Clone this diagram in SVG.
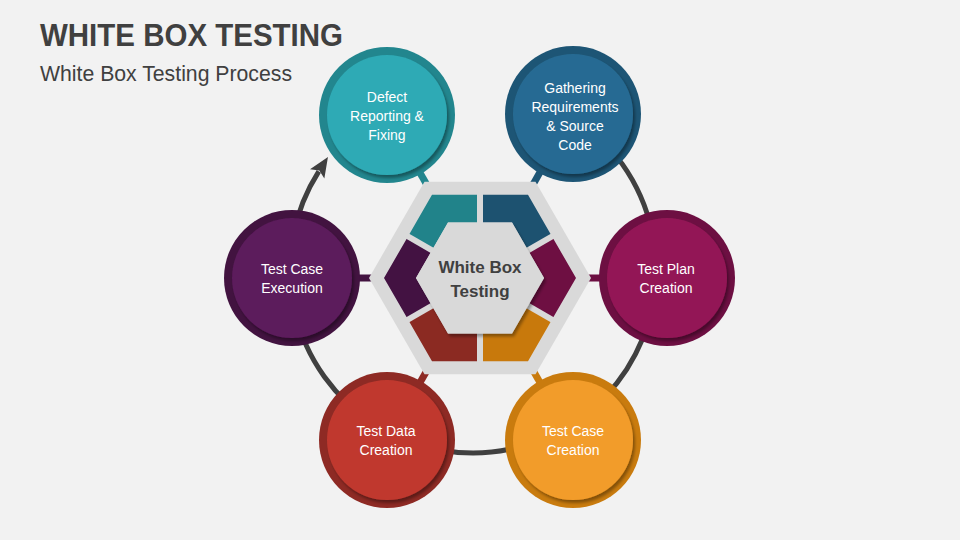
<svg xmlns="http://www.w3.org/2000/svg" width="960" height="540" viewBox="0 0 960 540">
<defs>
<style>
.title{font-family:"Liberation Sans",Arial,sans-serif;font-weight:bold;font-size:32px;fill:#404040}
.sub{font-family:"Liberation Sans",Arial,sans-serif;font-size:22px;fill:#404040}
.lbl{font-family:"Liberation Sans",Arial,sans-serif;font-size:14px;fill:#ffffff;text-anchor:middle}
.ctr{font-family:"Liberation Sans",Arial,sans-serif;font-weight:bold;font-size:17px;fill:#404040;text-anchor:middle}
.ring{fill:none;stroke:#404040;stroke-width:5}
.stem{stroke-width:7}
.gap{stroke:#d9d9d9;stroke-width:6}
</style>
<filter id="sh" x="-20%" y="-20%" width="140%" height="140%">
<feDropShadow dx="2" dy="3" stdDeviation="1.5" flood-color="#000" flood-opacity="0.35"/>
</filter>
<marker id="arr" markerUnits="userSpaceOnUse" markerWidth="24" markerHeight="24" viewBox="-4 -10 24 20" refX="0" refY="0" orient="auto">
<path d="M-3,-8.5 L17,0 L-3,8.5 L1,0 Z" fill="#404040"/>
</marker>
</defs>
<rect width="960" height="540" fill="#f2f2f2"/>
<text class="title" x="40" y="46" textLength="303" lengthAdjust="spacingAndGlyphs">WHITE BOX TESTING</text>
<text class="sub" x="40" y="81" textLength="252" lengthAdjust="spacingAndGlyphs">White Box Testing Process</text>

<g id="connectors">
<path class="ring" d="M572.7,116.5 A183,183 0 1 1 318.8,171.4" marker-end="url(#arr)"/>
<line class="stem" x1="387" y1="115" x2="480" y2="278" stroke="#22868e"/>
<line class="stem" x1="573" y1="114" x2="480" y2="278" stroke="#1d5575"/>
<line class="stem" x1="292" y1="278" x2="480" y2="278" stroke="#421340"/>
<line class="stem" x1="667" y1="278" x2="480" y2="278" stroke="#6d0f42"/>
<line class="stem" x1="387" y1="440" x2="480" y2="278" stroke="#8e2a24"/>
<line class="stem" x1="573" y1="440" x2="480" y2="278" stroke="#c97b0e"/>
</g>

<g id="hub">
<polygon points="591,278 535.5,374.13 424.5,374.13 369,278 424.5,181.87 535.5,181.87" fill="#d9d9d9"/>
<polygon points="552,236.43 576,278 552,319.57 528,305.71 544,278 528,250.29" fill="#6e0f42"/>
<polygon points="552,319.57 528,361.14 480,361.14 480,333.43 512,333.43 528,305.71" fill="#c8790c"/>
<polygon points="480,361.14 432,361.14 408,319.57 432,305.71 448,333.43 480,333.43" fill="#8b2a22"/>
<polygon points="408,319.57 384,278 408,236.43 432,250.29 416,278 432,305.71" fill="#431242"/>
<polygon points="408,236.43 432,194.86 480,194.86 480,222.57 448,222.57 432,250.29" fill="#21838a"/>
<polygon points="480,194.86 528,194.86 552,236.43 528,250.29 512,222.57 480,222.57" fill="#1d5270"/>
<line class="gap" x1="480" y1="278" x2="480" y2="190"/>
<line class="gap" x1="480" y1="278" x2="480" y2="366"/>
<line class="gap" x1="480" y1="278" x2="556.2" y2="234"/>
<line class="gap" x1="480" y1="278" x2="556.2" y2="322"/>
<line class="gap" x1="480" y1="278" x2="403.8" y2="234"/>
<line class="gap" x1="480" y1="278" x2="403.8" y2="322"/>
<polygon points="544,278 512,333.43 448,333.43 416,278 448,222.57 512,222.57" fill="#d9d9d9" filter="url(#sh)"/>
<text class="ctr" x="480" y="273">White Box</text>
<text class="ctr" x="480" y="297">Testing</text>
</g>

<g id="defect">
<circle cx="387" cy="115" r="68" fill="#22868e"/>
<circle cx="387" cy="115" r="60" fill="#2eaab5" filter="url(#sh)"/>
<text class="lbl" x="387" y="102">Defect</text>
<text class="lbl" x="387" y="121">Reporting &amp;</text>
<text class="lbl" x="387" y="140">Fixing</text>
</g>

<g id="gathering">
<circle cx="573" cy="114" r="68" fill="#1d5575"/>
<circle cx="573" cy="114" r="60" fill="#276b93" filter="url(#sh)"/>
<text class="lbl" x="575" y="93">Gathering</text>
<text class="lbl" x="575" y="112">Requirements</text>
<text class="lbl" x="575" y="131">&amp; Source</text>
<text class="lbl" x="575" y="150">Code</text>
</g>

<g id="execution">
<circle cx="292" cy="278" r="68" fill="#421340"/>
<circle cx="292" cy="278" r="60" fill="#5b1b5b" filter="url(#sh)"/>
<text class="lbl" x="292" y="274">Test Case</text>
<text class="lbl" x="292" y="293">Execution</text>
</g>

<g id="plan">
<circle cx="667" cy="278" r="68" fill="#6d0f42"/>
<circle cx="667" cy="278" r="60" fill="#931756" filter="url(#sh)"/>
<text class="lbl" x="666" y="274">Test Plan</text>
<text class="lbl" x="666" y="293">Creation</text>
</g>

<g id="data">
<circle cx="387" cy="440" r="68" fill="#8e2a24"/>
<circle cx="387" cy="440" r="60" fill="#c0392f" filter="url(#sh)"/>
<text class="lbl" x="386" y="436">Test Data</text>
<text class="lbl" x="386" y="455">Creation</text>
</g>

<g id="casecreation">
<circle cx="573" cy="440" r="68" fill="#c97b0e"/>
<circle cx="573" cy="440" r="60" fill="#f29c2b" filter="url(#sh)"/>
<text class="lbl" x="573" y="436">Test Case</text>
<text class="lbl" x="573" y="455">Creation</text>
</g>
</svg>
